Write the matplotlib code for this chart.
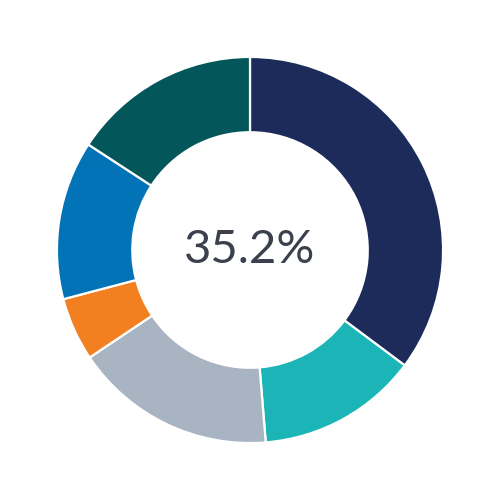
import matplotlib
matplotlib.use('Agg')
import matplotlib.pyplot as plt

shares = [35.2, 13.5, 16.9, 5.3, 13.3, 15.8]
colors = ['#1c2b5a', '#1bb5b8', '#a9b4c3', '#f28021', '#0173b6', '#03575a']
center_label = '35.2%'

fig = plt.figure(figsize=(5, 5), dpi=100)
ax = fig.add_axes([0, 0, 1, 1])
ax.pie(shares, colors=colors, startangle=90, counterclock=False, radius=1,
       wedgeprops=dict(width=0.39, edgecolor='white', linewidth=1.6))
ax.text(0, 0.0, center_label, ha='center', va='center', fontsize=34,
        color='#3a404c', family=['Lato', 'DejaVu Sans'])
ax.set_xlim(-1.295, 1.295)
ax.set_ylim(-1.295, 1.295)
ax.set_aspect('equal')
ax.axis('off')
fig.savefig('out.png', dpi=100, facecolor='white')
